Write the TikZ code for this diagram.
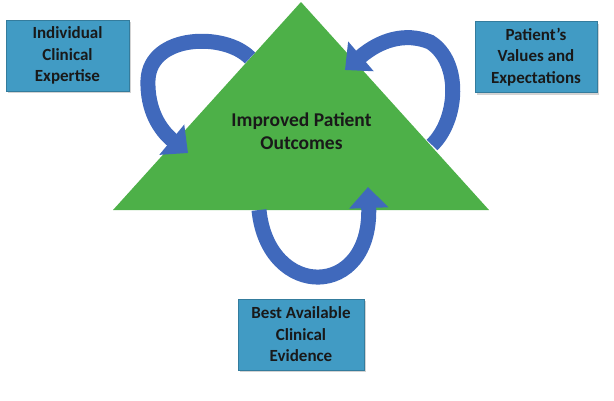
\documentclass[tikz,border=0pt]{standalone}
\usepackage{fontspec}
\setmainfont{Carlito}
\usetikzlibrary{arrows.meta,shadows}
\definecolor{boxblue}{RGB}{65,155,196}
\definecolor{trigreen}{RGB}{77,176,72}
\definecolor{arrowblue}{RGB}{64,105,188}
\begin{document}
\begin{tikzpicture}[x=1pt,y=-1pt,
        infobox/.style={rectangle,fill=boxblue,draw=boxblue!80!black,line width=0.4pt,
          minimum width=123pt,minimum height=71pt,inner sep=2pt,align=center,
          font=\bfseries\fontsize{17}{21.5}\selectfont,text=black!90,
          drop shadow={opacity=0.35,shadow xshift=1.5pt,shadow yshift=-2pt}},
        flow/.style={draw=arrowblue,line width=15pt,
          -{Triangle[width=38pt,length=21pt]}}]
      \useasboundingbox (0,0) rectangle (614,400);
      % triangle
      \coordinate (top) at (301,2);
      \coordinate (bl) at (113,210);
      \coordinate (br) at (489,210);
      \fill[trigreen] (top) -- (br) -- (bl) -- cycle;
      \node (outcomes) at (301.5,131) [align=center,text=black!90,
        font=\bfseries\fontsize{19.5}{23.5}\selectfont] {Improved Patient\\Outcomes};
      % boxes
      \node (expertise) at (67.5,55.5) [infobox] {Individual\\Clinical\\Expertise};
      \node (values) at (536,57) [infobox,minimum width=122pt] {Patient’s\\Values and\\Expectations};
      \node (evidence) at (301,334.5) [infobox,minimum width=126pt] {Best Available\\Clinical\\Evidence};
      % arrow ends
      \coordinate (l1) at (250,58);
      \coordinate (l2) at (148,80);
      \coordinate (l3) at (188,153);
      \coordinate (r1) at (432,145);
      \coordinate (r2) at (430,42);
      \coordinate (r3) at (345,70);
      \coordinate (b1) at (259,210);
      \coordinate (b2) at (368,187);
      \draw[flow] (l1) .. controls (225,32) and (150,34) .. (l2)
        .. controls (147,110) and (160,130) .. (l3);
      \draw[flow] (r1) .. controls (458,120) and (462,62) .. (r2)
        .. controls (405,32) and (380,40) .. (r3);
      \draw[flow] (b1) .. controls (268,300) and (372,300) .. (b2);
\end{tikzpicture}
\end{document}
